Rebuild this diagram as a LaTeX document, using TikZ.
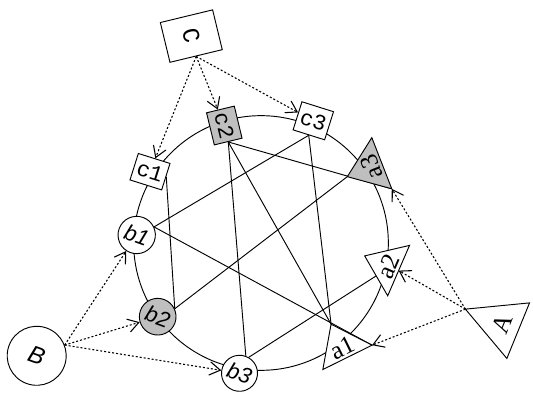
\documentclass[tikz,border=0pt]{standalone}
\usepackage{fontspec}
\setmainfont{Liberation Serif}
\newfontfamily\monof{Liberation Mono}
\newfontfamily\sansf{Liberation Sans}
\usetikzlibrary{arrows.meta}
\pgfdeclarelayer{edgelayer}
\pgfsetlayers{edgelayer,main}
\tikzset{
  nodebase/.style={draw=black, line width=0.7pt, inner sep=0pt},
  cbox/.style={nodebase, rectangle, fill=white, font=\monof\fontsize{16.5}{18}\selectfont},
  bcirc/.style={nodebase, circle, fill=white, font=\sansf\itshape\fontsize{16.5}{18}\selectfont},
  tri/.style={draw=black, line width=0.7pt, fill=white, line join=miter},
  alabel/.style={inner sep=0pt, transform shape, font=\fontsize{19}{21}\selectfont},
  hl/.style={fill=gray!50},
  chord/.style={draw=black, line width=0.7pt},
  dots/.style={draw=black, line width=0.8pt, dash pattern=on 1.5pt off 1.5pt,
    -{Straight Barb[length=8pt,width=10pt]}},
}
\begin{document}
\begin{tikzpicture}[x=0.75pt,y=-0.75pt]
\useasboundingbox (0,0) rectangle (533,402);
% C group
\node[cbox, rotate=-76.4, minimum width=30.7pt, minimum height=40.35pt,
      font=\monof\fontsize{18}{20}\selectfont] (C) at (191.3,36.1) {C};
\node[cbox, rotate=-17.5, minimum width=24.9pt, minimum height=20.8pt] (c1) at (150,171.7) {c1};
\node[cbox, hl, rotate=-76.4, minimum width=24.75pt, minimum height=21.4pt] (c2) at (224.3,125.5) {c2};
\node[cbox, rotate=-17.5, minimum width=24.8pt, minimum height=22.1pt] (c3) at (313.3,120.8) {c3};
% B group
\node[bcirc, rotate=-20, minimum size=44.25pt,
      font=\sansf\itshape\fontsize{18}{20}\selectfont] (B) at (36.7,355.8) {B};
\node[bcirc, rotate=-20, minimum size=28pt] (b1) at (136.7,235) {b1};
\node[bcirc, hl, rotate=-20, minimum size=27.5pt] (b2) at (157.7,316.7) {b2};
\node[bcirc, rotate=-20, minimum size=27pt] (b3) at (239.5,373.3) {b3};
% A group
\begin{scope}[shift={(500.6,323.5)}, rotate=67.8]
  \draw[tri] (0pt,28.5pt) coordinate (A-t) -- (-22.5pt,-14.25pt) coordinate (A-l)
     -- (22.5pt,-14.25pt) coordinate (A-r) -- cycle;
  \node[alabel] (A) at (0pt,-1pt) {A};
\end{scope}
\begin{scope}[shift={(370.3,167.7)}, rotate=111.3]
  \draw[tri, hl] (0pt,18.5pt) coordinate (a3-t) -- (-20.6pt,-9.25pt) coordinate (a3-l)
     -- (20.6pt,-9.25pt) coordinate (a3-r) -- cycle;
  \node[alabel] (a3) at (0pt,-1pt) {a3};
\end{scope}
\begin{scope}[shift={(387.3,265.7)}, rotate=66.6]
  \draw[tri] (0pt,18.5pt) coordinate (a2-t) -- (-20.6pt,-9.25pt) coordinate (a2-l)
     -- (20.6pt,-9.25pt) coordinate (a2-r) -- cycle;
  \coordinate (a2-b) at (0pt,-9.25pt);
  \coordinate (a2-ls) at (-10.3pt,4.6pt);
  \node[alabel] (a2) at (0pt,-1pt) {a2};
\end{scope}
\begin{scope}[shift={(342,346.3)}, rotate=26.3]
  \draw[tri] (0pt,18.5pt) coordinate (a1-t) -- (-20.6pt,-9.25pt) coordinate (a1-l)
     -- (20.6pt,-9.25pt) coordinate (a1-r) -- cycle;
  \node[alabel] (a1) at (0pt,-1pt) {a1};
\end{scope}
% connectors beneath the nodes
\begin{pgfonlayer}{edgelayer}
  \draw[line width=0.7pt] (261,243) circle[radius=95.5pt];
  \draw[chord] (c2.east) -- (a3-l);
  \draw[chord] (c2.east) -- (b3.90);
  \draw[chord] (c2.east) -- (a1-t);
  \draw[chord] (c3.south) -- (b1.45);
  \draw[chord] (c3.south) -- (a1-t);
  \draw[chord] (c1.east) -- (b2.45);
  \draw[chord] (b1.45) -- (a1-r);
  \draw[chord] (b2.45) -- (a3-t);
  \draw[chord] (b3.80) -- (a2-ls);
  \draw[dots] (C.east) -- (c1);
  \draw[dots] (C.east) -- (c2);
  \draw[dots] (C.east) -- (c3);
  \draw[dots] (B.41) -- (b1);
  \draw[dots] (B.41) -- (b2);
  \draw[dots] (B.41) -- (b3);
  \draw[dots] (A-t) -- (a3-l);
  \draw[dots] (A-t) -- (a2-b);
  \draw[dots] (A-t) -- (a1-r);
\end{pgfonlayer}
\end{tikzpicture}
\end{document}
